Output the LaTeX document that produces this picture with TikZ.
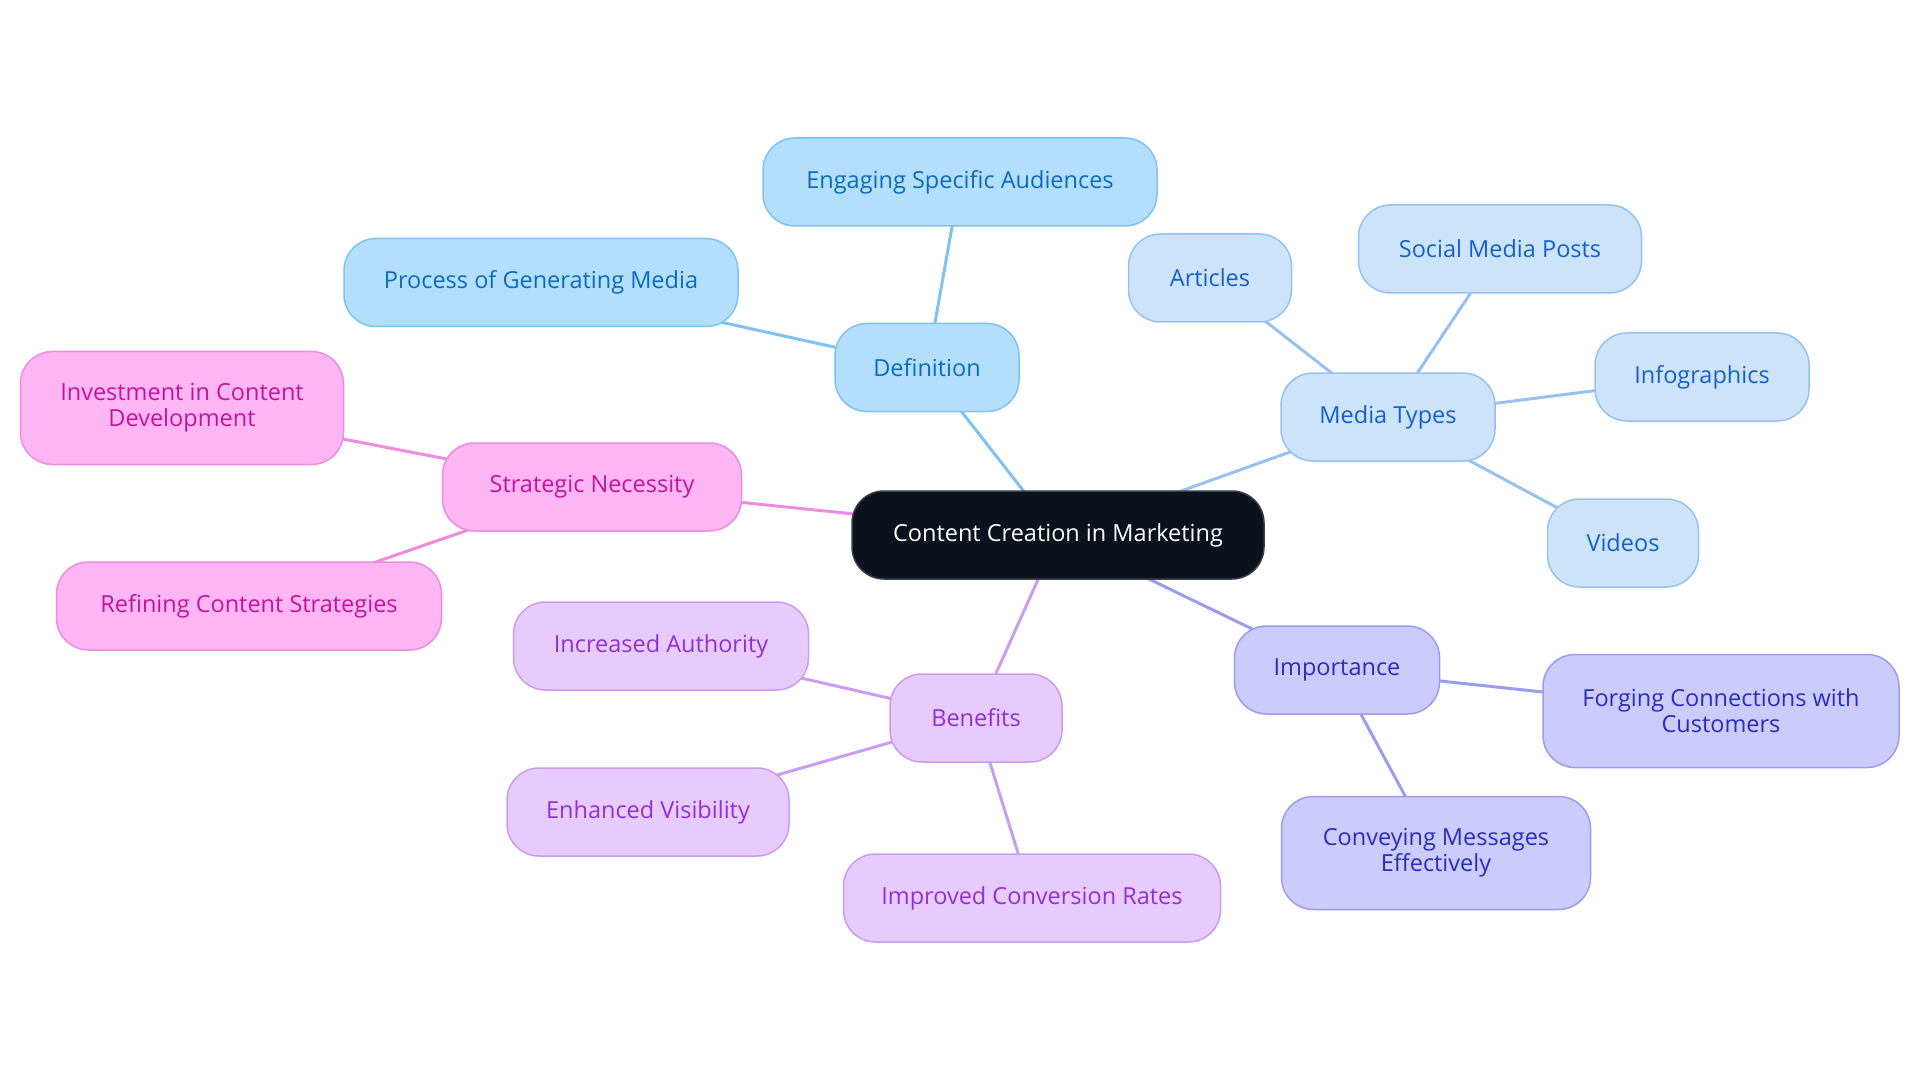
\documentclass[tikz,border=0pt]{standalone}
\usepackage{fontspec}
\setmainfont{Open Sans}
\usetikzlibrary{backgrounds}
\definecolor{defFill}{HTML}{B3DFFD}
\definecolor{defDraw}{HTML}{7DC2F2}
\definecolor{defText}{HTML}{0B6BBF}
\definecolor{medFill}{HTML}{CCE3FA}
\definecolor{medDraw}{HTML}{97C1EF}
\definecolor{medText}{HTML}{1560CC}
\definecolor{impFill}{HTML}{CBCBFC}
\definecolor{impDraw}{HTML}{9B9CF0}
\definecolor{impText}{HTML}{2B2DBD}
\definecolor{benFill}{HTML}{E7CBFD}
\definecolor{benDraw}{HTML}{CB9CF0}
\definecolor{benText}{HTML}{9230D6}
\definecolor{strFill}{HTML}{FDB5F3}
\definecolor{strDraw}{HTML}{EE8CE0}
\definecolor{strText}{HTML}{C5139E}
\definecolor{ctrFill}{HTML}{0C121C}
\definecolor{ctrDraw}{HTML}{3A3F48}
\begin{document}
\begin{tikzpicture}[x=1pt,y=-1pt,
  box/.style={rectangle, rounded corners=32pt, minimum height=88pt, inner sep=0pt,
    align=center, line width=1.5pt, font=\fontsize{23.5}{26}\selectfont},
  twoline/.style={minimum height=113pt},
  ctrbox/.style={box, fill=ctrFill, draw=ctrDraw, text=white},
  defbox/.style={box, fill=defFill, draw=defDraw, text=defText},
  medbox/.style={box, fill=medFill, draw=medDraw, text=medText},
  impbox/.style={box, fill=impFill, draw=impDraw, text=impText},
  benbox/.style={box, fill=benFill, draw=benDraw, text=benText},
  strbox/.style={box, fill=strFill, draw=strDraw, text=strText},
  link/.style={line width=3pt},
  deflink/.style={link, draw=defDraw},
  medlink/.style={link, draw=medDraw},
  implink/.style={link, draw=impDraw},
  benlink/.style={link, draw=benDraw},
  strlink/.style={link, draw=strDraw}]
\useasboundingbox (0,0) rectangle (1920,1083);

\node[ctrbox, minimum width=412pt] (ctr) at (1058,535) {Content Creation in Marketing};

\node[defbox, minimum width=184pt] (def) at (927,367.5) {Definition};
\node[defbox, minimum width=394pt] (eng) at (960,182) {Engaging Specific Audiences};
\node[defbox, minimum width=394pt] (proc) at (541,282.5) {Process of Generating Media};

\node[medbox, minimum width=214pt] (med) at (1388,417) {Media Types};
\node[medbox, minimum width=163pt] (art) at (1210,278) {Articles};
\node[medbox, minimum width=283pt] (soc) at (1500,249) {Social Media Posts};
\node[medbox, minimum width=214pt] (info) at (1702,377) {Infographics};
\node[medbox, minimum width=151pt] (vid) at (1623,543) {Videos};

\node[strbox, minimum width=299pt] (str) at (592,487) {Strategic Necessity};
\node[strbox, twoline, minimum width=323pt] (inv) at (182,408) {Investment in Content\\Development};
\node[strbox, minimum width=385pt] (ref) at (249,606) {Refining Content Strategies};

\node[benbox, minimum width=172pt] (ben) at (976,718) {Benefits};
\node[benbox, minimum width=295pt] (auth) at (661,646) {Increased Authority};
\node[benbox, minimum width=282pt] (vis) at (648,812) {Enhanced Visibility};
\node[benbox, minimum width=377pt] (conv) at (1032,898) {Improved Conversion Rates};

\node[impbox, minimum width=205pt] (imp) at (1337,670) {Importance};
\node[impbox, twoline, minimum width=356pt] (forg) at (1721,711) {Forging Connections with\\Customers};
\node[impbox, twoline, minimum width=309pt] (convey) at (1436,853) {Conveying Messages\\Effectively};

\begin{pgfonlayer}{background}
\draw[deflink] (ctr.center) -- (def.center);
\draw[deflink] (def.center) -- (eng.center);
\draw[deflink] (def.center) -- (proc.center);
\draw[medlink] (ctr.center) -- (med.center);
\draw[medlink] (med.center) -- (art.center);
\draw[medlink] (med.center) -- (soc.center);
\draw[medlink] (med.center) -- (info.center);
\draw[medlink] (med.center) -- (vid.center);
\draw[strlink] (ctr.center) -- (str.center);
\draw[strlink] (str.center) -- (inv.center);
\draw[strlink] (str.center) -- (ref.center);
\draw[benlink] (ctr.center) -- (ben.center);
\draw[benlink] (ben.center) -- (auth.center);
\draw[benlink] (ben.center) -- (vis.center);
\draw[benlink] (ben.center) -- (conv.center);
\draw[implink] (ctr.center) -- (imp.center);
\draw[implink] (imp.center) -- (forg.center);
\draw[implink] (imp.center) -- (convey.center);
\end{pgfonlayer}
\end{tikzpicture}
\end{document}
